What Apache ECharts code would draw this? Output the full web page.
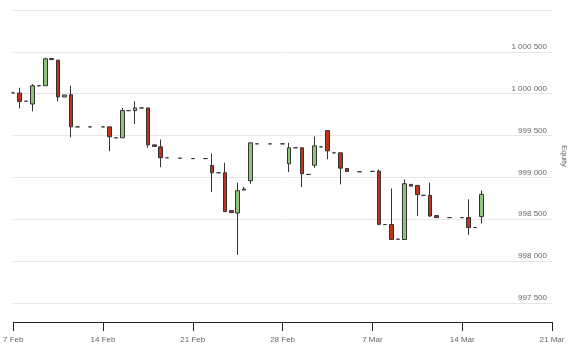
<!DOCTYPE html>
<html>
<head>
<meta charset="utf-8">
<script src="https://cdn.jsdelivr.net/npm/echarts@6/dist/echarts.min.js"></script>
<style>html,body{margin:0;padding:0;background:#fff}#c{width:580px;height:360px}</style>
</head>
<body>
<div id="c"></div>
<script>
var times = ['2022-02-07T00:00Z','2022-02-07T12:00Z','2022-02-08T00:00Z','2022-02-08T12:00Z','2022-02-09T00:00Z','2022-02-09T12:00Z','2022-02-10T00:00Z','2022-02-10T12:00Z','2022-02-11T00:00Z','2022-02-11T12:00Z','2022-02-12T00:00Z','2022-02-13T00:00Z','2022-02-14T00:00Z','2022-02-14T12:00Z','2022-02-15T00:00Z','2022-02-15T12:00Z','2022-02-16T00:00Z','2022-02-16T12:00Z','2022-02-17T00:00Z','2022-02-17T12:00Z','2022-02-18T00:00Z','2022-02-18T12:00Z','2022-02-19T00:00Z','2022-02-20T00:00Z','2022-02-21T00:00Z','2022-02-22T00:00Z','2022-02-22T12:00Z','2022-02-23T00:00Z','2022-02-23T12:00Z','2022-02-24T00:00Z','2022-02-24T12:00Z','2022-02-25T00:00Z','2022-02-25T12:00Z','2022-02-26T00:00Z','2022-02-27T00:00Z','2022-02-28T00:00Z','2022-02-28T12:00Z','2022-03-01T00:00Z','2022-03-01T12:00Z','2022-03-02T00:00Z','2022-03-02T12:00Z','2022-03-03T00:00Z','2022-03-03T12:00Z','2022-03-04T00:00Z','2022-03-04T12:00Z','2022-03-05T00:00Z','2022-03-06T00:00Z','2022-03-07T00:00Z','2022-03-07T12:00Z','2022-03-08T00:00Z','2022-03-08T12:00Z','2022-03-09T00:00Z','2022-03-09T12:00Z','2022-03-10T00:00Z','2022-03-10T12:00Z','2022-03-11T00:00Z','2022-03-11T12:00Z','2022-03-12T00:00Z','2022-03-13T00:00Z','2022-03-14T00:00Z','2022-03-14T12:00Z','2022-03-15T00:00Z','2022-03-15T12:00Z'];
var openV  = [1000010,1000008,999910,999877,1000095,1000095,1000420,1000401,999961,999988,999604,999604,999604,999604,999473,999473,999798,999798,999830,999830,999389,999365,999235,999230,999225,999225,999143,999056,999056,998604,998575,998849,998961,999401,999401,999401,999163,999354,999354,999036,999146,999365,999560,999294,999294,999107,999068,999072,999075,998437,998437,998262,998258,998917,998905,998786,998786,998544,998520,998520,998520,998401,998532];
var closeV = [1000010,999908,999910,1000095,1000095,1000417,1000408,999961,999985,999604,999604,999604,999604,999485,999473,999798,999798,999830,999830,999389,999370,999235,999235,999230,999225,999225,999056,999056,998592,998580,998842,998861,999413,999401,999401,999401,999354,999354,999044,999036,999377,999365,999318,999294,999111,999071,999068,999072,998440,998437,998258,998262,998925,998896,998794,998786,998539,998520,998520,998520,998401,998401,998798];
var lowV   = [1000010,999825,999910,999789,1000095,1000095,1000408,999908,999961,999480,999604,999604,999604,999313,999473,999473,999798,999639,999830,999354,999370,999123,999235,999230,999225,999225,998825,999056,998592,998580,998075,998849,998925,999401,999401,999401,999063,999354,998885,999036,999115,999365,999218,999294,998917,999071,999068,999072,998429,998437,998258,998262,998258,998896,998539,998786,998527,998520,998520,998520,998313,998401,998449];
var highV  = [1000010,1000071,999910,1000115,1000095,1000429,1000420,1000405,999985,1000095,999604,999604,999604,999604,999473,999830,999798,999908,999830,999830,999389,999452,999235,999230,999225,999225,999286,999056,999175,998604,998937,998889,999413,999401,999401,999401,999413,999354,999354,999036,999488,999365,999560,999294,999294,999107,999068,999072,999095,998437,998869,998262,998976,998917,998905,998786,998937,998544,998520,998520,998738,998401,998845];
var tickLabels = ['7 Feb','14 Feb','21 Feb','28 Feb','7 Mar','14 Mar','21 Mar'];
var axisTitle = 'Equity';

var t0 = Date.parse('2022-02-07T00:00Z');
var data = times.map(function (t, i) {
  return [(Date.parse(t) - t0) / 86400000, openV[i], closeV[i], lowV[i], highV[i]];
});
function fmtNum(v) {
  return String(v).replace(/\B(?=(\d{3})+(?!\d))/g, ' ');
}

var chart = echarts.init(document.getElementById('c'), null, {renderer: 'canvas'});
chart.setOption({
  animation: false,
  backgroundColor: '#fff',
  grid: {left: 12, right: 28, top: 10, bottom: 38, containLabel: false},
  xAxis: {
    type: 'value', min: 0, max: 42, interval: 7,
    axisLine: {show: true, lineStyle: {color: '#222', width: 1}},
    axisTick: {show: true, length: 9, lineStyle: {color: '#222'}},
    splitLine: {show: false},
    axisLabel: {
      margin: 14, fontSize: 8, color: '#666', fontFamily: 'Liberation Sans, Arial, sans-serif',
      formatter: function (v) { return tickLabels[Math.round(v / 7)] || ''; }
    }
  },
  yAxis: {
    type: 'value', position: 'right', min: 997273, max: 1001000,
    splitNumber: 7, minInterval: 500, maxInterval: 500, scale: true,
    name: axisTitle, nameLocation: 'middle', nameRotate: -90, nameGap: 8,
    nameTextStyle: {fontSize: 8, color: '#666', fontFamily: 'Liberation Sans, Arial, sans-serif', padding: [0, 20, 0, 0]},
    axisLine: {show: false}, axisTick: {show: false},
    splitLine: {show: true, lineStyle: {color: '#e6e6e6', width: 1}},
    axisLabel: {
      inside: true, margin: 5, fontSize: 8, color: '#666', verticalAlign: 'bottom',
      padding: [0, 0, 1, 0], fontFamily: 'Liberation Sans, Arial, sans-serif',
      formatter: function (v) {
        if (v % 500 !== 0 || v >= 1001000) return '';
        return fmtNum(v);
      }
    }
  },
  series: [{
    type: 'candlestick',
    data: data,
    encode: {x: 0, y: [1, 2, 3, 4]},
    barWidth: 4,
    itemStyle: {
      color: '#8fc47a', color0: '#c1321b',
      borderColor: '#333', borderColor0: '#333', borderColorDoji: '#333', borderWidth: 1
    }
  }]
});
</script>
</body>
</html>
